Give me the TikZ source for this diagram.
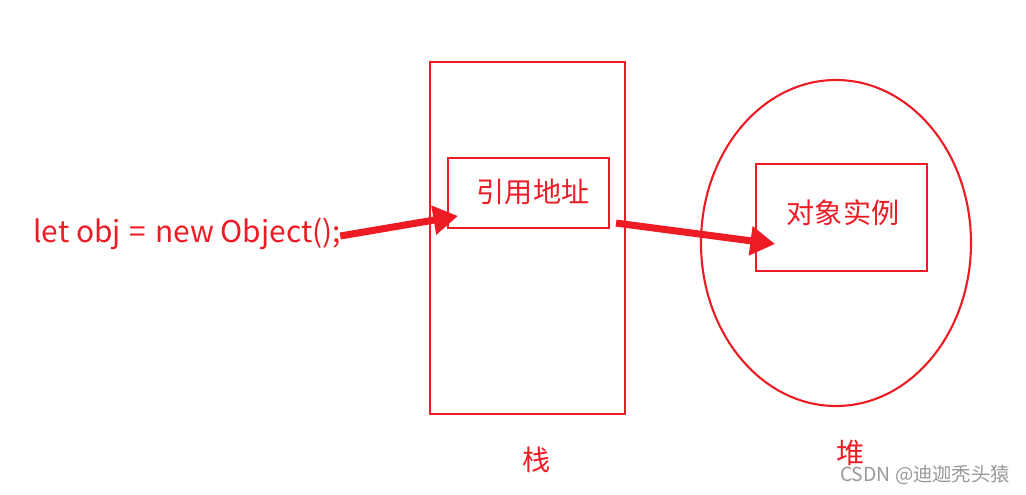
\documentclass[tikz,border=0pt]{standalone}
\usepackage{fontspec}
\setmainfont{Noto Sans CJK SC}
\usepackage{xcolor}
\usetikzlibrary{arrows.meta}
\definecolor{redline}{HTML}{ED1C24}

\begin{document}
\begin{tikzpicture}[x=0.02cm,y=-0.02cm]
\useasboundingbox (0,0) rectangle (1026,494);
\tikzset{box/.style={draw=redline,line width=1.2pt},
  txt/.style={text=redline,font=\fontsize{16}{18}\selectfont,inner sep=0pt},
  bigarrow/.style={draw=redline,line width=4pt,-{Triangle[length=14pt,width=16pt]}}}
% stack and heap
\draw[box] (430,62) rectangle (625,414);
\draw[box] (836,243) ellipse [x radius=135,y radius=163];
\node[box,minimum width=161*0.02cm,minimum height=70*0.02cm] (ref) at (528.5,193) {};
\node[box,minimum width=171*0.02cm,minimum height=107*0.02cm] (obj) at (841.5,217.5) {};
\node[txt] at (533,192) {引用地址};
\node[txt] at (843,213) {对象实例};
\node[txt,anchor=west] (code) at (33,234) {\fontsize{17}{20}\selectfont let obj\hspace{0.3em}=\hspace{0.3em}new Object();};
\node[txt] at (537,460) {栈};
\node[txt] at (851,453) {堆};
\node[text=gray!80,font=\fontsize{11}{12}\selectfont,inner sep=0pt] at (925,475) {CSDN @迪迦秃头猿};
% arrows
\coordinate (p1) at (458,216);
\coordinate (p2) at (775,244);
\draw[bigarrow] (code.east) ++(-1,2) -- (p1);
\draw[bigarrow] (ref.south east) ++(6,-6) -- (p2);
\end{tikzpicture}
\end{document}
